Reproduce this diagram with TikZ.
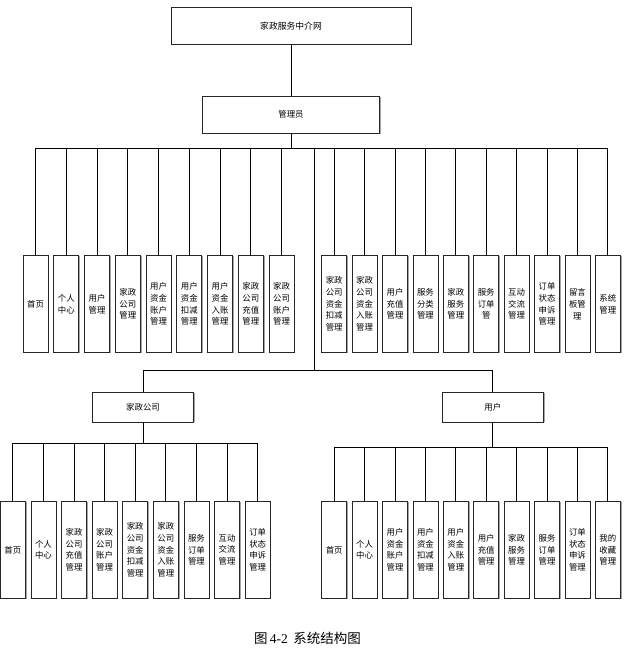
\documentclass[tikz,border=0pt]{standalone}
\usepackage{fontspec}
\setmainfont{Liberation Serif}
\newfontfamily\cjk{Noto Sans CJK SC}
\usetikzlibrary{shadows}
\begin{document}
\begin{tikzpicture}[x=1pt,y=-1pt,
  box/.style={draw=black!85, line width=0.8pt, fill=white, inner sep=0pt, align=center,
    font=\cjk\fontsize{8.4}{11.7}\selectfont,
    drop shadow={shadow xshift=1.3pt, shadow yshift=-0.5pt, fill=gray!70, opacity=1}},
  leaf/.style={box, minimum width=25pt, minimum height=96.6pt},
  mid/.style={box, minimum width=101pt, minimum height=29.3pt},
  link/.style={draw=black, line width=0.8pt}]
\useasboundingbox (0,0) rectangle (635,651);

% top levels
\node[box, minimum width=240pt, minimum height=36.7pt, font=\cjk\fontsize{8.8}{10}\selectfont] (top) at (291,25.7) {家政服务中介网};
\node[box, minimum width=177.3pt, minimum height=37pt] (admin) at (291,114.8) {管理员};

% admin children
\foreach \t [count=\i] in {{首页},{个人\\中心},{用户\\管理},{家政\\公司\\管理},{用户\\资金\\账户\\管理},{用户\\资金\\扣减\\管理},{用户\\资金\\入账\\管理},{家政\\公司\\充值\\管理},{家政\\公司\\账户\\管理}}
  \node[leaf] (a\i) at ({35.5+30.75*(\i-1)},304) {\t};
\foreach \t [count=\i from 10] in {{家政\\公司\\资金\\扣减\\管理},{家政\\公司\\资金\\入账\\管理},{用户\\充值\\管理},{服务\\分类\\管理},{家政\\服务\\管理},{服务\\订单\\管},{互动\\交流\\管理},{订单\\状态\\申诉\\管理},{留言\\板管\\理},{系统\\管理}}
  \node[leaf] (a\i) at ({334.2+30.4*(\i-10)},304) {\t};

% second level
\node[mid, minimum width=101.4pt] (comp) at (143,407.3) {家政公司};
\node[mid] (user) at (492.8,407.3) {用户};

\foreach \t [count=\i] in {{首页},{个人\\中心},{家政\\公司\\充值\\管理},{家政\\公司\\账户\\管理},{家政\\公司\\资金\\扣减\\管理},{家政\\公司\\资金\\入账\\管理},{服务\\订单\\管理},{互动\\交流\\管理},{订单\\状态\\申诉\\管理}}
  \node[leaf, minimum height=97pt] (c\i) at ({12.8+30.61*(\i-1)},549.8) {\t};
\foreach \t [count=\i] in {{首页},{个人\\中心},{用户\\资金\\账户\\管理},{用户\\资金\\扣减\\管理},{用户\\资金\\入账\\管理},{用户\\充值\\管理},{家政\\服务\\管理},{服务\\订单\\管理},{订单\\状态\\申诉\\管理},{我的\\收藏\\管理}}
  \node[leaf, minimum height=97pt] (u\i) at ({334.2+30.4*(\i-1)},549.8) {\t};

% connectors
\draw[link] (top.south) -- (admin.north);
\coordinate (abus) at (291,148.5);
\draw[link] (admin.south) -- (abus);
\foreach \i in {1,...,19} \draw[link] (abus) -| (a\i.north);
\coordinate (trunk) at (314,148.5);
\coordinate (split) at (314,370.7);
\draw[link] (trunk) -- (split) -| (comp.north);
\draw[link] (split) -| (user.north);
\coordinate (cbus) at (143,443.3);
\draw[link] (comp.south) -- (cbus);
\foreach \i in {1,...,9} \draw[link] (cbus) -| (c\i.north);
\coordinate (ubus) at (492.8,447.7);
\draw[link] (user.south) -- (ubus);
\foreach \i in {1,...,10} \draw[link] (ubus) -| (u\i.north);

% caption
\node[font=\fontsize{13.5}{16}\selectfont, inner sep=0pt] (cap) at (307.5,638) {{\cjk 图}\,4-2\, {\cjk 系统结构图}};
\end{tikzpicture}
\end{document}
